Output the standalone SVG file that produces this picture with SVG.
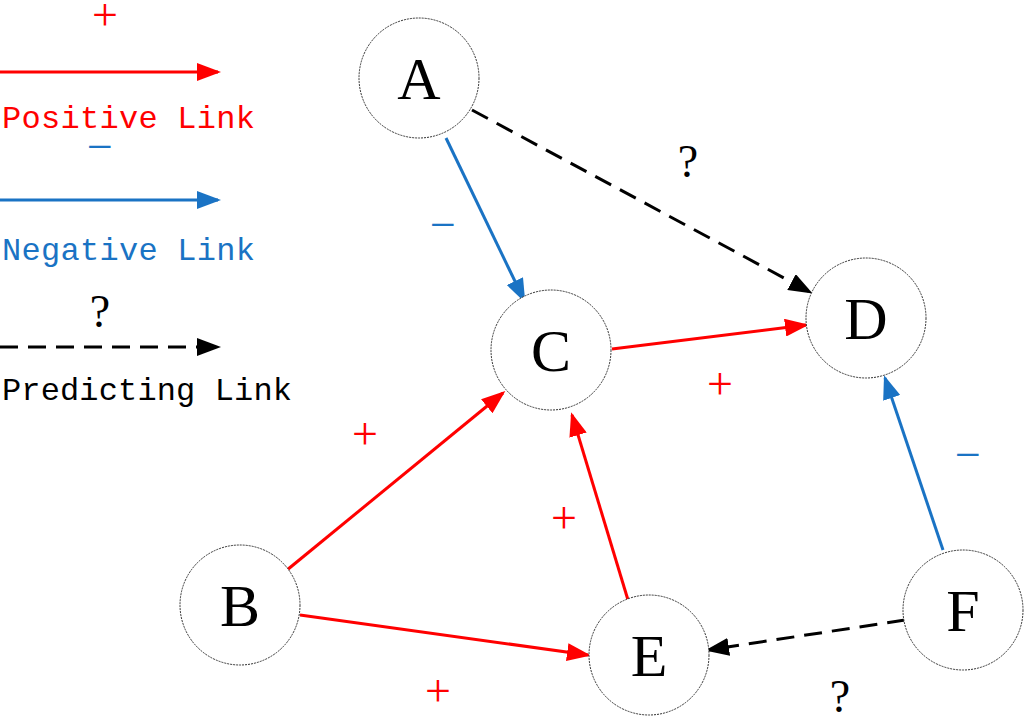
<svg xmlns="http://www.w3.org/2000/svg" width="1024" height="720" viewBox="0 0 1024 720">
<style>
.n{fill:#fff;stroke:#333;stroke-width:1;stroke-dasharray:2 1}
.nt{font-family:"Liberation Serif",serif;font-size:60px;text-anchor:middle}
.lg{font-family:"Liberation Mono",monospace;font-size:32px}
.s{font-family:"Liberation Serif",serif;font-size:46px;text-anchor:middle}
.r{stroke:#f00;stroke-width:3;fill:none;marker-end:url(#mr)}
.b{stroke:#1a73c4;stroke-width:3;fill:none;marker-end:url(#mb)}
.k{stroke:#000;stroke-width:3;fill:none;stroke-dasharray:18 10;marker-end:url(#mk)}
</style>
<defs>
<marker id="mr" markerWidth="8" markerHeight="6" refX="7" refY="3" orient="auto" markerUnits="strokeWidth"><path d="M0,0L8,3L0,6Z" fill="#f00"/></marker>
<marker id="mb" markerWidth="8" markerHeight="6" refX="7" refY="3" orient="auto" markerUnits="strokeWidth"><path d="M0,0L8,3L0,6Z" fill="#1a73c4"/></marker>
<marker id="mk" markerWidth="8" markerHeight="6" refX="7" refY="3" orient="auto" markerUnits="strokeWidth"><path d="M0,0L8,3L0,6Z" fill="#000"/></marker>
</defs>
<rect width="1024" height="720" fill="#fff"/>
<g id="legend">
<text x="105" y="30" class="s" fill="#f00">+</text>
<line x1="0" y1="72" x2="218" y2="72" class="r"/>
<text x="2" y="128" class="lg" fill="#f00" textLength="253">Positive Link</text>
<text x="100" y="162" class="s" fill="#1a73c4">−</text>
<line x1="0" y1="200" x2="218" y2="200" class="b"/>
<text x="2" y="260" class="lg" fill="#1a73c4" textLength="253">Negative Link</text>
<text x="100" y="327" class="s">?</text>
<line x1="0" y1="347" x2="218" y2="347" class="k"/>
<text x="2" y="400" class="lg" textLength="290">Predicting Link</text>
</g>
<g id="connectors">
<line x1="446" y1="138" x2="524" y2="300" class="b"/>
<line x1="472" y1="110" x2="810" y2="292" class="k"/>
<line x1="612" y1="349" x2="806" y2="325" class="r"/>
<line x1="943" y1="550" x2="885" y2="378" class="b"/>
<line x1="287" y1="570" x2="503" y2="393" class="r"/>
<line x1="300" y1="615" x2="588" y2="655" class="r"/>
<line x1="628" y1="600" x2="572" y2="415" class="r"/>
<line x1="905" y1="620" x2="708" y2="650" class="k"/>
<text x="443" y="240" class="s" fill="#1a73c4">−</text>
<text x="688" y="177" class="s">?</text>
<text x="720" y="399" class="s" fill="#f00">+</text>
<text x="365" y="449" class="s" fill="#f00">+</text>
<text x="564" y="533" class="s" fill="#f00">+</text>
<text x="968" y="470" class="s" fill="#1a73c4">−</text>
<text x="438" y="706" class="s" fill="#f00">+</text>
<text x="840" y="712" class="s">?</text>
</g>
<g id="A"><circle cx="419" cy="78" r="60" class="n"/><text x="419" y="99" class="nt">A</text></g>
<g id="C"><circle cx="551" cy="350" r="60" class="n"/><text x="551" y="371" class="nt">C</text></g>
<g id="D"><circle cx="866" cy="318" r="60" class="n"/><text x="866" y="339" class="nt">D</text></g>
<g id="B"><circle cx="240" cy="605" r="60" class="n"/><text x="240" y="626" class="nt">B</text></g>
<g id="E"><circle cx="649" cy="655" r="60" class="n"/><text x="649" y="676" class="nt">E</text></g>
<g id="F"><circle cx="963" cy="610" r="60" class="n"/><text x="963" y="631" class="nt">F</text></g>
</svg>
